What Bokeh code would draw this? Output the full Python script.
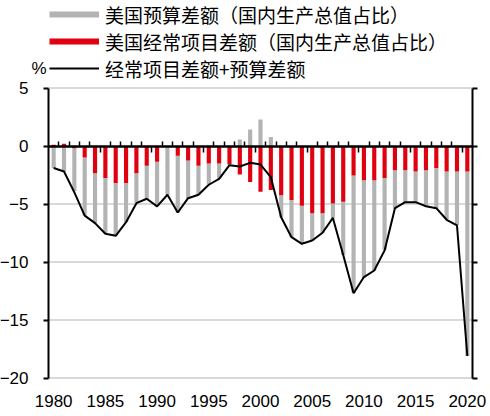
from bokeh.plotting import figure
from bokeh.models import (Range1d, LinearAxis, FixedTicker, Legend,
                          LegendItem, Label)
from bokeh.embed import file_html
from bokeh.resources import INLINE

# ---- data ----
years = list(range(1980, 2021))
# 美国预算差额（国内生产总值占比）
budget = [-1.9, -2.2, -3.7, -5.0, -4.3, -4.8, -4.5, -3.35, -2.55, -2.85,
          -3.8, -4.2, -4.9, -3.3, -2.5, -1.8, -1.3, -0.1, 0.57, 1.43,
          2.29, 0.77, -1.9, -3.2, -3.3, -2.4, -1.7, -1.3, -4.6, -10.1,
          -8.4, -7.8, -6.2, -3.3, -2.8, -2.6, -3.1, -3.5, -4.1, -4.6, -15.9]
# 美国经常项目差额（国内生产总值占比）
current = [0.1, 0.2, -0.2, -1.0, -2.35, -2.75, -3.2, -3.2, -2.35, -1.7,
           -1.35, 0.0, -0.85, -1.25, -1.7, -1.5, -1.5, -1.55, -2.45, -3.1,
           -3.95, -3.8, -4.25, -4.65, -5.15, -5.8, -5.8, -4.95, -4.8, -2.55,
           -2.95, -2.95, -2.75, -2.1, -2.1, -2.2, -2.1, -1.9, -2.2, -2.2, -2.2]
# 经常项目差额+预算差额
total = [-1.9, -2.2, -4.0, -6.0, -6.65, -7.57, -7.74, -6.57, -4.93,
         -4.55, -5.2, -4.2, -5.73, -4.5, -4.2, -3.34, -2.83, -1.65, -1.77,
         -1.45, -1.6, -2.69, -6.14, -7.86, -8.43, -8.15, -7.48, -6.2, -9.4,
         -12.7, -11.3, -10.73, -9.0, -5.36, -4.84, -4.84, -5.19, -5.36, -6.36,
         -6.85, -18.1]
x_tick_labels = [1980, 1985, 1990, 1995, 2000, 2005, 2010, 2015, 2020]
y_ticks = [-20, -15, -10, -5, 0, 5]

label_budget = "美国预算差额（国内生产总值占比）"
label_current = "美国经常项目差额（国内生产总值占比）"
label_total = "经常项目差额+预算差额"
unit_label = "%"

GRAY = "#b3b3b3"
RED = "#e0000f"
GRID = "#d9d9d9"
NUM_FONT = "Liberation Sans"
CJK_FONT = "Noto Sans CJK SC"

# ---- layout geometry (pixels) ----
W, H = 490, 416
BOTTOM = 26
FRAME_H = H - BOTTOM
AX_L, AX_R = 48, 472          # where the left/right axes sit
Y5_PX, YM20_PX = 87.5, 377.5  # vertical pixel of y=5 and y=-20
ROW_CENTERS = [14, 41, 68]    # legend rows (pixels from top)
ROW_H = 27

x_lo, x_hi = years[0] - 0.5, years[-1] + 0.5
sx = (AX_R - AX_L) / (x_hi - x_lo)
x_start = x_lo - AX_L / sx
x_end = x_start + W / sx
y_lo, y_hi = y_ticks[0], y_ticks[-1]
sy = (YM20_PX - Y5_PX) / (y_hi - y_lo)
y_start = y_lo - (FRAME_H - YM20_PX) / sy
y_end = y_start + FRAME_H / sy

p = figure(width=W, height=H, output_backend="svg", toolbar_location=None,
           x_range=Range1d(x_start, x_end), y_range=Range1d(y_start, y_end),
           min_border_left=0, min_border_right=0,
           min_border_top=0, min_border_bottom=BOTTOM)
p.outline_line_color = None
p.background_fill_color = "white"
p.border_fill_color = "white"
p.xgrid.visible = False
p.ygrid.visible = False

# bottom year labels
xa = p.xaxis[0]
xa.ticker = FixedTicker(ticks=x_tick_labels)
xa.axis_line_color = None
xa.major_tick_line_color = None
xa.minor_tick_line_color = None
xa.major_tick_out = 0
xa.major_tick_in = 0
xa.minor_tick_out = 0
xa.major_label_standoff = 4
xa.major_label_text_font = NUM_FONT
xa.major_label_text_font_size = "17px"
xa.major_label_text_color = "black"

# left value axis, pinned to the first category edge
ya = p.yaxis[0]
ya.fixed_location = x_lo
ya.bounds = (y_lo, y_hi)
ya.ticker = FixedTicker(ticks=y_ticks)
ya.axis_line_width = 2
ya.axis_line_color = "black"
ya.major_tick_line_width = 2
ya.major_tick_line_color = "black"
ya.major_tick_out = 5
ya.major_tick_in = 0
ya.minor_tick_line_color = None
ya.major_label_standoff = 15
ya.major_label_text_font = NUM_FONT
ya.major_label_text_font_size = "17px"
ya.major_label_text_color = "black"

# right axis (no labels)
ra = LinearAxis(fixed_location=x_hi, bounds=(y_lo, y_hi),
                ticker=FixedTicker(ticks=y_ticks), major_label_text_color=None,
                major_tick_out=5, major_tick_in=0, minor_tick_line_color=None,
                axis_line_width=2, major_tick_line_width=2)
p.add_layout(ra, "right")

# horizontal grid lines between the axes
grid_vals = [t for t in y_ticks if t != 0]
p.segment(x0=[x_lo] * len(grid_vals), x1=[x_hi] * len(grid_vals),
          y0=grid_vals, y1=grid_vals, line_color=GRID, line_width=2,
          level="underlay")

# stacked bars: current account nearest zero, budget stacked beyond it
gray_base = [c if (c < 0) == (b < 0) else 0.0 for b, c in zip(budget, current)]
gray_top = [g + b for g, b in zip(gray_base, budget)]
p.vbar(x=years, bottom=gray_base, top=gray_top, width=0.4,
       fill_color=GRAY, line_color=None)
p.vbar(x=years, bottom=0, top=current, width=0.4,
       fill_color=RED, line_color=None)

# zero line with category tick marks (an axis pinned at y = 0)
bounds = [y + 0.5 for y in years[:-1]]
major_b = [b for b in bounds if (b + 0.5) % 5 == 0]
minor_b = [b for b in bounds if (b + 0.5) % 5 != 0]
za = LinearAxis(fixed_location=0, bounds=(x_lo, x_hi),
                ticker=FixedTicker(ticks=major_b, minor_ticks=minor_b),
                major_label_text_color=None,
                axis_line_width=2.5, axis_line_color="black",
                major_tick_out=6, major_tick_in=0, major_tick_line_width=1.5,
                minor_tick_out=0, minor_tick_in=5, minor_tick_line_width=1.5)
p.add_layout(za, "below")

r_line = p.line(years, total, line_color="black", line_width=2)

# legend swatches (single NaN point, only used for the key)
nan = float("nan")
r_g = p.line(x=[nan], y=[nan], line_color=GRAY, line_width=6)
r_r = p.line(x=[nan], y=[nan], line_color=RED, line_width=6)

entries = [(label_budget, r_g), (label_current, r_r), (label_total, r_line)]
for (text, rend), cy in zip(entries, ROW_CENTERS):
    lg = Legend(items=[LegendItem(label=text, renderers=[rend])],
                location=(AX_L + 1, FRAME_H - cy - ROW_H / 2),
                orientation="vertical",
                glyph_width=50, glyph_height=20, label_height=20,
                label_standoff=6, spacing=0, padding=0, margin=0,
                border_line_color=None, background_fill_alpha=0,
                label_text_font=CJK_FONT, label_text_font_size="19px",
                label_text_color="black")
    p.add_layout(lg)

p.add_layout(Label(x=31, y=FRAME_H - ROW_CENTERS[2], x_units="screen",
                   y_units="screen", text=unit_label, text_font=NUM_FONT,
                   text_font_size="17px", text_baseline="middle",
                   text_align="left", text_color="black"))

open("out.html", "w").write(file_html(p, INLINE))
